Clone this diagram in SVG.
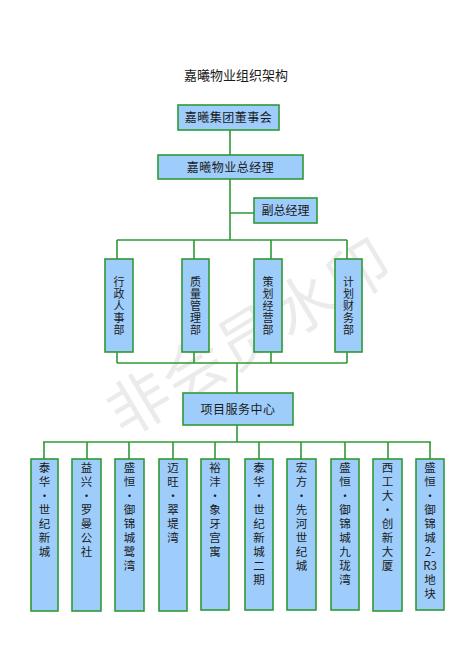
<svg xmlns="http://www.w3.org/2000/svg" width="474" height="670" viewBox="0 0 474 670">
<style>
.box{fill:#9fcdfb;stroke:#2f9a35;stroke-width:1.6}
.ln{stroke:#2f9a35;stroke-width:1.6;fill:none}
.t{font-family:"Noto Sans CJK SC","Liberation Sans",sans-serif;font-size:12px;fill:#1a1a1a;text-anchor:middle}
.d{font-size:11px}
.p{font-size:11.5px}
.title{font-size:13px}
.wm{font-family:"Noto Sans CJK SC",sans-serif;font-size:62px;fill:#000;fill-opacity:0.08}
</style>
<rect width="474" height="670" fill="#fff"/>
<text class="wm" transform="translate(247,333) rotate(-31)" text-anchor="middle" dominant-baseline="central" letter-spacing="2">非会员水印</text>
<text class="t title" x="236" y="80">嘉曦物业组织架构</text>
<g id="connectors">
<path class="ln" d="M230,130V155M230,179V240M230,213H254M117,240H347M117,240V259M194,240V259M271,240V259M347,240V259M117,352V363M194,352V363M271,352V363M347,352V363M117,363H347M237,363V393M237,425V442M43,442H431M44,442V459M87,442V459M129,442V459M173,442V459M215,442V459M259,442V459M301,442V459M345,442V459M388,442V459M430,442V459"/>
</g>
<g id="n-board"><rect class="box" x="178" y="105" width="101" height="25"/><text class="t" x="228.5" y="122" letter-spacing="0.5">嘉曦集团董事会</text></g>
<g id="n-gm"><rect class="box" x="158" y="155" width="145" height="24"/><text class="t" x="230.5" y="171.5" letter-spacing="0.5">嘉曦物业总经理</text></g>
<g id="n-dgm"><rect class="box" x="254" y="198" width="63" height="25"/><text class="t" x="285.5" y="215">副总经理</text></g>
<g id="n-hr"><rect class="box" x="105" y="259" width="28" height="93"/><text class="t d" x="119" y="286"><tspan x="119">行</tspan><tspan x="119" dy="12">政</tspan><tspan x="119" dy="12">人</tspan><tspan x="119" dy="12">事</tspan><tspan x="119" dy="12">部</tspan></text></g>
<g id="n-qa"><rect class="box" x="182" y="259" width="27" height="93"/><text class="t d" x="195.5" y="286"><tspan x="195.5">质</tspan><tspan x="195.5" dy="12">量</tspan><tspan x="195.5" dy="12">管</tspan><tspan x="195.5" dy="12">理</tspan><tspan x="195.5" dy="12">部</tspan></text></g>
<g id="n-plan"><rect class="box" x="254" y="259" width="28" height="93"/><text class="t d" x="268" y="286"><tspan x="268">策</tspan><tspan x="268" dy="12">划</tspan><tspan x="268" dy="12">经</tspan><tspan x="268" dy="12">营</tspan><tspan x="268" dy="12">部</tspan></text></g>
<g id="n-fin"><rect class="box" x="335" y="259" width="27" height="93"/><text class="t d" x="348.5" y="286"><tspan x="348.5">计</tspan><tspan x="348.5" dy="12">划</tspan><tspan x="348.5" dy="12">财</tspan><tspan x="348.5" dy="12">务</tspan><tspan x="348.5" dy="12">部</tspan></text></g>
<g id="n-center"><rect class="box" x="183" y="393" width="110" height="32"/><text class="t" x="238" y="413.5" letter-spacing="0.5">项目服务中心</text></g>
<g id="p1"><rect class="box" x="31" y="459" width="27" height="152"/><text class="t p" x="44.5" y="472"><tspan x="44.5">泰</tspan><tspan x="44.5" dy="14">华</tspan><tspan x="44.5" dy="14">·</tspan><tspan x="44.5" dy="14">世</tspan><tspan x="44.5" dy="14">纪</tspan><tspan x="44.5" dy="14">新</tspan><tspan x="44.5" dy="14">城</tspan></text></g>
<g id="p2"><rect class="box" x="72" y="459" width="29" height="152"/><text class="t p" x="86.5" y="472"><tspan x="86.5">益</tspan><tspan x="86.5" dy="14">兴</tspan><tspan x="86.5" dy="14">·</tspan><tspan x="86.5" dy="14">罗</tspan><tspan x="86.5" dy="14">曼</tspan><tspan x="86.5" dy="14">公</tspan><tspan x="86.5" dy="14">社</tspan></text></g>
<g id="p3"><rect class="box" x="115" y="459" width="29" height="152"/><text class="t p" x="129.5" y="472"><tspan x="129.5">盛</tspan><tspan x="129.5" dy="14">恒</tspan><tspan x="129.5" dy="14">·</tspan><tspan x="129.5" dy="14">御</tspan><tspan x="129.5" dy="14">锦</tspan><tspan x="129.5" dy="14">城</tspan><tspan x="129.5" dy="14">鹭</tspan><tspan x="129.5" dy="14">湾</tspan></text></g>
<g id="p4"><rect class="box" x="159" y="459" width="28" height="152"/><text class="t p" x="173" y="472"><tspan x="173">迈</tspan><tspan x="173" dy="14">旺</tspan><tspan x="173" dy="14">·</tspan><tspan x="173" dy="14">翠</tspan><tspan x="173" dy="14">堤</tspan><tspan x="173" dy="14">湾</tspan></text></g>
<g id="p5"><rect class="box" x="201" y="459" width="28" height="151"/><text class="t p" x="215" y="472"><tspan x="215">裕</tspan><tspan x="215" dy="14">沣</tspan><tspan x="215" dy="14">·</tspan><tspan x="215" dy="14">象</tspan><tspan x="215" dy="14">牙</tspan><tspan x="215" dy="14">宫</tspan><tspan x="215" dy="14">寓</tspan></text></g>
<g id="p6"><rect class="box" x="245" y="459" width="28" height="151"/><text class="t p" x="259" y="472"><tspan x="259">泰</tspan><tspan x="259" dy="14">华</tspan><tspan x="259" dy="14">·</tspan><tspan x="259" dy="14">世</tspan><tspan x="259" dy="14">纪</tspan><tspan x="259" dy="14">新</tspan><tspan x="259" dy="14">城</tspan><tspan x="259" dy="14">二</tspan><tspan x="259" dy="14">期</tspan></text></g>
<g id="p7"><rect class="box" x="287" y="459" width="29" height="151"/><text class="t p" x="301.5" y="472"><tspan x="301.5">宏</tspan><tspan x="301.5" dy="14">方</tspan><tspan x="301.5" dy="14">·</tspan><tspan x="301.5" dy="14">先</tspan><tspan x="301.5" dy="14">河</tspan><tspan x="301.5" dy="14">世</tspan><tspan x="301.5" dy="14">纪</tspan><tspan x="301.5" dy="14">城</tspan></text></g>
<g id="p8"><rect class="box" x="331" y="459" width="28" height="151"/><text class="t p" x="345" y="472"><tspan x="345">盛</tspan><tspan x="345" dy="14">恒</tspan><tspan x="345" dy="14">·</tspan><tspan x="345" dy="14">御</tspan><tspan x="345" dy="14">锦</tspan><tspan x="345" dy="14">城</tspan><tspan x="345" dy="14">九</tspan><tspan x="345" dy="14">珑</tspan><tspan x="345" dy="14">湾</tspan></text></g>
<g id="p9"><rect class="box" x="373" y="459" width="29" height="152"/><text class="t p" x="387.5" y="472"><tspan x="387.5">西</tspan><tspan x="387.5" dy="14">工</tspan><tspan x="387.5" dy="14">大</tspan><tspan x="387.5" dy="14">·</tspan><tspan x="387.5" dy="14">创</tspan><tspan x="387.5" dy="14">新</tspan><tspan x="387.5" dy="14">大</tspan><tspan x="387.5" dy="14">厦</tspan></text></g>
<g id="p10"><rect class="box" x="416" y="459" width="28" height="151"/><text class="t p" x="430" y="472"><tspan x="430">盛</tspan><tspan x="430" dy="14">恒</tspan><tspan x="430" dy="14">·</tspan><tspan x="430" dy="14">御</tspan><tspan x="430" dy="14">锦</tspan><tspan x="430" dy="14">城</tspan><tspan x="430" dy="14">2-</tspan><tspan x="430" dy="14">R3</tspan><tspan x="430" dy="14">地</tspan><tspan x="430" dy="14">块</tspan></text></g>
</svg>
